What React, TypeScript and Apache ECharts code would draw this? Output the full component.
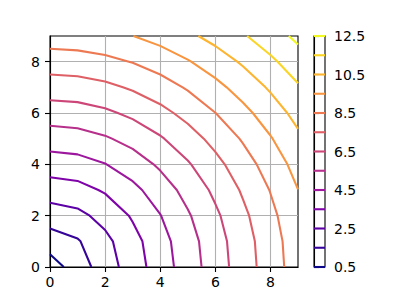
import React, { useEffect, useRef } from "react";
import * as echarts from "echarts";

// grid coordinates
const xValues = [0, 1, 2, 3, 4, 5, 6, 7, 8, 9];
const yValues = [0, 1, 2, 3, 4, 5, 6, 7, 8, 9];

// z values, one row per y (row j holds z at y = j, x = 0..9)
const zRow0 = [0.0, 1.0, 2.0, 3.0, 4.0, 5.0, 6.0, 7.0, 8.0, 9.0];
const zRow1 = [1.0, 1.41, 2.24, 3.16, 4.12, 5.1, 6.08, 7.07, 8.06, 9.06];
const zRow2 = [2.0, 2.24, 2.83, 3.61, 4.47, 5.39, 6.32, 7.28, 8.25, 9.22];
const zRow3 = [3.0, 3.16, 3.61, 4.24, 5.0, 5.83, 6.71, 7.62, 8.54, 9.49];
const zRow4 = [4.0, 4.12, 4.47, 5.0, 5.66, 6.4, 7.21, 8.06, 8.94, 9.85];
const zRow5 = [5.0, 5.1, 5.39, 5.83, 6.4, 7.07, 7.81, 8.6, 9.43, 10.3];
const zRow6 = [6.0, 6.08, 6.32, 6.71, 7.21, 7.81, 8.49, 9.22, 10.0, 10.82];
const zRow7 = [7.0, 7.07, 7.28, 7.62, 8.06, 8.6, 9.22, 9.9, 10.63, 11.4];
const zRow8 = [8.0, 8.06, 8.25, 8.54, 8.94, 9.43, 10.0, 10.63, 11.31, 12.04];
const zRow9 = [9.0, 9.06, 9.22, 9.49, 9.85, 10.3, 10.82, 11.4, 12.04, 12.73];

// contour levels and their colours (plasma)
const levels = [0.5, 1.5, 2.5, 3.5, 4.5, 5.5, 6.5, 7.5, 8.5, 9.5, 10.5, 11.5, 12.5];
const levelColors = [
  "#0d0887", "#350498", "#5c01a6", "#7e03a8", "#9c179e", "#b6308b", "#cc4778",
  "#de5f65", "#ed7953", "#f89540", "#fdb42f", "#fbd524", "#f0f921",
];

// tick labels
const xTicks = [0, 2, 4, 6, 8];
const yTicks = [0, 2, 4, 6, 8];
const colorbarTicks = [0.5, 2.5, 4.5, 6.5, 8.5, 10.5, 12.5];

const zGrid = [zRow0, zRow1, zRow2, zRow3, zRow4, zRow5, zRow6, zRow7, zRow8, zRow9];

type Pt = [number, number];

// marching squares: returns polylines for one level
function contourLines(level: number): Pt[][] {
  const ny = yValues.length;
  const nx = xValues.length;
  const ptOf: Record<string, Pt> = {};
  const adj: Record<string, string[]> = {};
  const crossing = (i0: number, j0: number, i1: number, j1: number): string | null => {
    const a = zGrid[j0][i0];
    const b = zGrid[j1][i1];
    if ((a < level) === (b < level)) return null;
    const key = `${i0},${j0}-${i1},${j1}`;
    if (!ptOf[key]) {
      const t = (level - a) / (b - a);
      ptOf[key] = [
        xValues[i0] + t * (xValues[i1] - xValues[i0]),
        yValues[j0] + t * (yValues[j1] - yValues[j0]),
      ];
    }
    return key;
  };
  const link = (a: string, b: string) => {
    (adj[a] = adj[a] || []).push(b);
    (adj[b] = adj[b] || []).push(a);
  };
  for (let j = 0; j < ny - 1; j++) {
    for (let i = 0; i < nx - 1; i++) {
      const raw = [
        crossing(i, j, i + 1, j),
        crossing(i + 1, j, i + 1, j + 1),
        crossing(i, j + 1, i + 1, j + 1),
        crossing(i, j, i, j + 1),
      ];
      const e = raw.filter((k) => k !== null) as string[];
      if (e.length === 2) link(e[0], e[1]);
      else if (e.length === 4) {
        const c = (zGrid[j][i] + zGrid[j][i + 1] + zGrid[j + 1][i] + zGrid[j + 1][i + 1]) / 4;
        if ((c < level) === (zGrid[j][i] < level)) {
          link(e[0], e[1]);
          link(e[2], e[3]);
        } else {
          link(e[0], e[3]);
          link(e[1], e[2]);
        }
      }
    }
  }
  const visited = new Set<string>();
  const lines: Pt[][] = [];
  const walk = (start: string) => {
    const path: string[] = [start];
    visited.add(start);
    let cur = start;
    for (;;) {
      const next = (adj[cur] || []).find((k) => !visited.has(k));
      if (!next) break;
      visited.add(next);
      path.push(next);
      cur = next;
    }
    lines.push(path.map((k) => ptOf[k]));
  };
  const keys = Object.keys(adj);
  keys.filter((k) => adj[k].length === 1).forEach((k) => { if (!visited.has(k)) walk(k); });
  keys.forEach((k) => { if (!visited.has(k)) walk(k); });
  return lines;
}

export default function App() {
  const ref = useRef<HTMLDivElement>(null);
  useEffect(() => {
    if (!ref.current) return;
    const chart = echarts.init(ref.current, undefined, { renderer: "svg" });
    const font = "DejaVu Sans";
    const series: any[] = [];
    levels.forEach((lvl, k) => {
      contourLines(lvl).forEach((line) => {
        series.push({
          type: "line",
          xAxisIndex: 0,
          yAxisIndex: 0,
          data: line,
          symbol: "none",
          showSymbol: false,
          silent: true,
          lineStyle: { color: levelColors[k], width: 2.08 },
        });
      });
      series.push({
        type: "line",
        xAxisIndex: 1,
        yAxisIndex: 1,
        data: [[0, lvl], [1, lvl]],
        symbol: "none",
        showSymbol: false,
        silent: true,
        clip: false,
        lineStyle: { color: levelColors[k], width: 2.08 },
      });
    });
    const axisLine = { show: true, lineStyle: { color: "#000", width: 1.1 } };
    chart.setOption({
      animation: false,
      textStyle: { fontFamily: font },
      grid: [
        { left: 50, right: 102, top: 36, bottom: 33, show: true, borderColor: "#000", borderWidth: 1.1, backgroundColor: "transparent" },
        { left: 314, width: 11, top: 36, bottom: 33, show: true, borderColor: "#000", borderWidth: 1.1, backgroundColor: "#fff" },
      ],
      xAxis: [
        {
          type: "value", gridIndex: 0, min: 0, max: 9, interval: 2,
          axisLine,
          axisTick: { show: true, inside: false, length: 5, customValues: xTicks, lineStyle: { color: "#000", width: 1.1 } },
          axisLabel: { customValues: xTicks, fontSize: 14, color: "#000", margin: 8, fontFamily: font },
          splitLine: { show: true, lineStyle: { color: "#b0b0b0", width: 1.1 } },
        },
        { type: "value", gridIndex: 1, min: 0, max: 1, show: false },
      ],
      yAxis: [
        {
          type: "value", gridIndex: 0, min: 0, max: 9, interval: 2,
          axisLine,
          axisTick: { show: true, inside: false, length: 5, customValues: yTicks, lineStyle: { color: "#000", width: 1.1 } },
          axisLabel: { customValues: yTicks, fontSize: 14, color: "#000", margin: 10, fontFamily: font },
          splitLine: { show: true, lineStyle: { color: "#b0b0b0", width: 1.1 } },
        },
        {
          type: "value", gridIndex: 1, min: 0.5, max: 12.5, position: "right",
          axisLine,
          axisTick: { show: true, inside: false, length: 5, customValues: colorbarTicks, lineStyle: { color: "#000", width: 1.1 } },
          axisLabel: { customValues: colorbarTicks, fontSize: 14, color: "#000", margin: 9, fontFamily: font, formatter: (v: number) => v.toFixed(1) },
          splitLine: { show: false },
        },
      ],
      series,
    });
    return () => chart.dispose();
  }, []);
  return (
    <div
      ref={ref}
      style={{ position: "fixed", left: 0, top: 0, width: 400, height: 300, background: "#fff" }}
    />
  );
}
